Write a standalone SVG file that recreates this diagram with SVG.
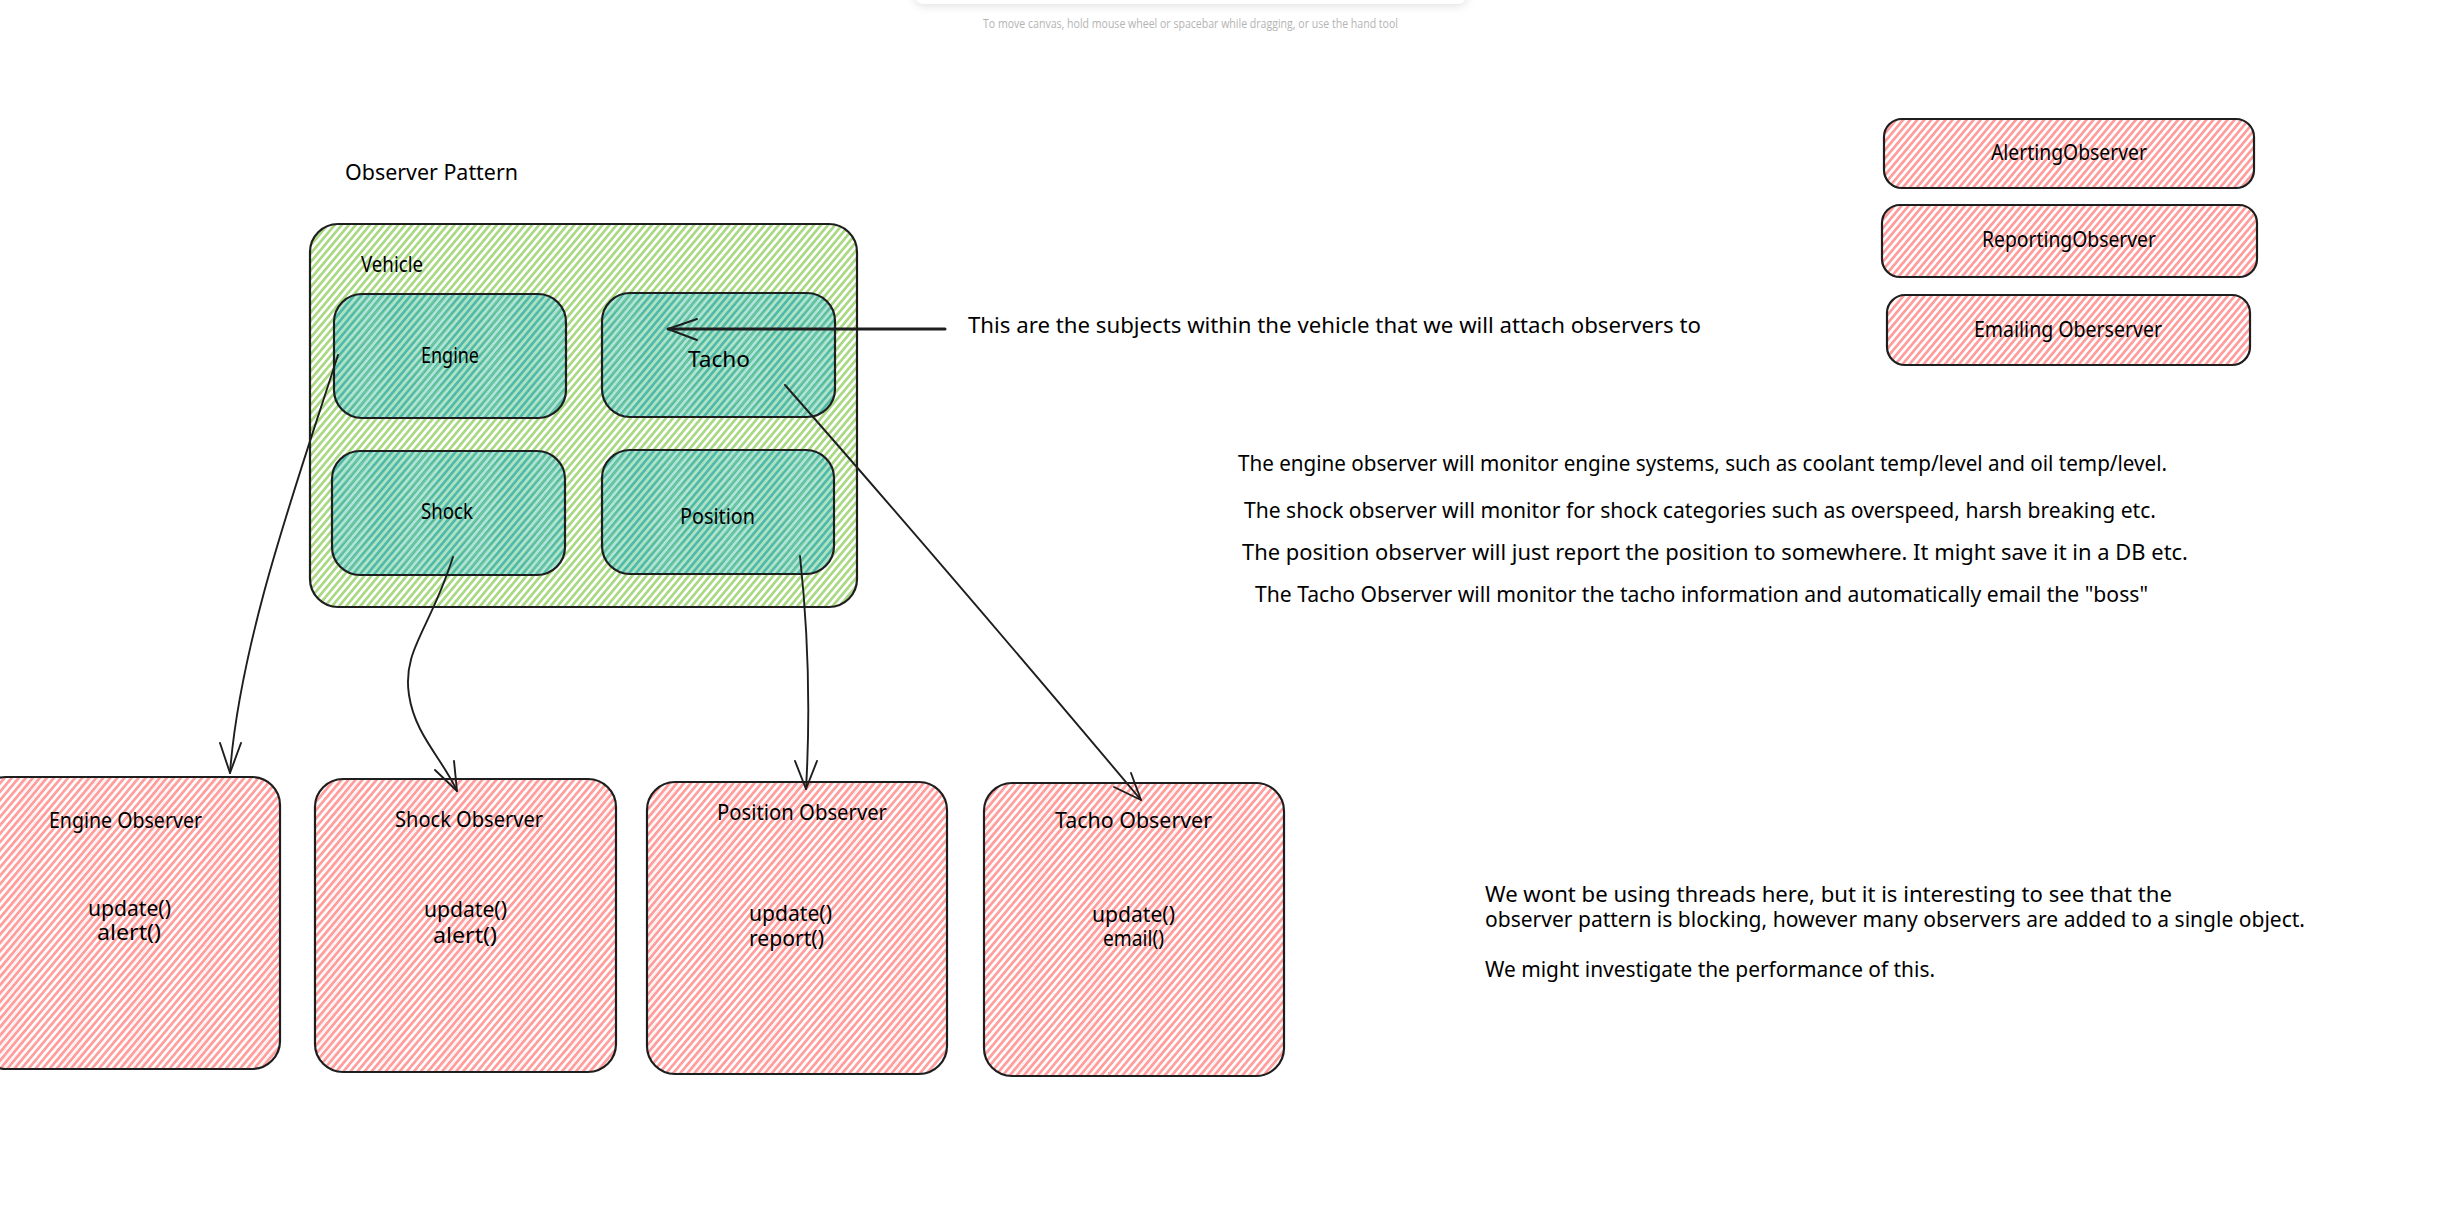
<svg xmlns="http://www.w3.org/2000/svg" width="2439" height="1231" viewBox="0 0 2439 1231">
<style>
.box{stroke:#1e1e1e;stroke-width:2.2}
.green{fill:url(#hGreen)}
.pink{fill:url(#hPink)}
.pink2{fill:url(#hPink2);stroke:none}
.teal{fill:url(#hTeal)}
.teal2{fill:url(#hTeal2);stroke:none}
text{font-family:"Noto Sans","Liberation Sans",sans-serif;font-size:21px;fill:#000}
.hint{font-family:"Open Sans","Liberation Sans",sans-serif;font-size:13px;fill:#b4b4b4}
.line{fill:none;stroke:#1e1e1e;stroke-width:1.9;stroke-linecap:round;stroke-linejoin:round}
</style>
<defs>
<filter id="sh" x="-5%" y="-100%" width="110%" height="400%"><feDropShadow dx="0" dy="2" stdDeviation="5" flood-color="#000" flood-opacity="0.12"/></filter>
<pattern id="hGreen" patternUnits="userSpaceOnUse" width="5.4" height="5.4" patternTransform="rotate(40)"><rect width="2.7" height="5.4" fill="#a9d983"/></pattern>
<pattern id="hPink" patternUnits="userSpaceOnUse" width="5.4" height="5.4" patternTransform="rotate(40)"><rect width="2.7" height="5.4" fill="#ff9c9c"/></pattern>
<pattern id="hPink2" patternUnits="userSpaceOnUse" width="5.8" height="5.8" patternTransform="rotate(43)"><rect width="0.8" height="5.8" fill="#ffb4b4" fill-opacity="0.4"/></pattern>
<pattern id="hTeal" patternUnits="userSpaceOnUse" width="5.4" height="5.4" patternTransform="rotate(40)"><rect width="5.4" height="5.4" fill="#b2e6d8"/><rect x="1" width="2.7" height="5.4" fill="#4db8a6"/></pattern>
<pattern id="hTeal2" patternUnits="userSpaceOnUse" width="5.8" height="5.8" patternTransform="rotate(43)"><rect width="1.2" height="5.8" fill="#a9d983" fill-opacity="0.5"/></pattern>
</defs>
<rect width="2439" height="1231" fill="#fff"/>

<g id="canvas-panel">
<rect x="914" y="-30" width="553" height="34" rx="10" fill="#fff" filter="url(#sh)"/>
<text class="hint" x="983" y="28" textLength="415" lengthAdjust="spacingAndGlyphs">To move canvas, hold mouse wheel or spacebar while dragging, or use the hand tool</text>
</g>

<g id="title"><text x="345" y="180" textLength="173" lengthAdjust="spacingAndGlyphs">Observer Pattern</text></g>

<g id="vehicle">
<rect class="box green" x="310" y="224" width="547" height="383" rx="28"/>
<text x="361" y="272" textLength="62" lengthAdjust="spacingAndGlyphs">Vehicle</text>
</g>
<g id="engine">
<rect class="box teal" x="334" y="294" width="232" height="124" rx="28"/><rect class="teal2" x="336" y="296" width="228" height="120" rx="26"/>
<text x="421" y="363" textLength="58" lengthAdjust="spacingAndGlyphs">Engine</text>
</g>
<g id="tacho">
<rect class="box teal" x="602" y="293" width="233" height="124" rx="28"/><rect class="teal2" x="604" y="295" width="229" height="120" rx="26"/>
<text x="688" y="367" textLength="62" lengthAdjust="spacingAndGlyphs">Tacho</text>
</g>
<g id="shock">
<rect class="box teal" x="332" y="451" width="233" height="124" rx="28"/><rect class="teal2" x="334" y="453" width="229" height="120" rx="26"/>
<text x="421" y="519" textLength="52" lengthAdjust="spacingAndGlyphs">Shock</text>
</g>
<g id="position">
<rect class="box teal" x="602" y="450" width="232" height="124" rx="28"/><rect class="teal2" x="604" y="452" width="228" height="120" rx="26"/>
<text x="680" y="524" textLength="75" lengthAdjust="spacingAndGlyphs">Position</text>
</g>

<g id="engine-observer">
<rect class="box pink" x="-22" y="777" width="302" height="292" rx="28"/><rect class="pink2" x="-22" y="778" width="301" height="290" rx="28"/>
<text x="49" y="828" textLength="153" lengthAdjust="spacingAndGlyphs">Engine Observer</text>
<text x="88" y="916" textLength="83" lengthAdjust="spacingAndGlyphs">update()</text>
<text x="97" y="940" textLength="64" lengthAdjust="spacingAndGlyphs">alert()</text>
</g>
<g id="shock-observer">
<rect class="box pink" x="315" y="779" width="301" height="293" rx="28"/><rect class="pink2" x="316" y="780" width="299" height="291" rx="28"/>
<text x="395" y="827" textLength="148" lengthAdjust="spacingAndGlyphs">Shock Observer</text>
<text x="424" y="917" textLength="83" lengthAdjust="spacingAndGlyphs">update()</text>
<text x="433" y="943" textLength="64" lengthAdjust="spacingAndGlyphs">alert()</text>
</g>
<g id="position-observer">
<rect class="box pink" x="647" y="782" width="300" height="292" rx="28"/><rect class="pink2" x="648" y="783" width="298" height="290" rx="28"/>
<text x="717" y="820" textLength="170" lengthAdjust="spacingAndGlyphs">Position Observer</text>
<text x="749" y="921" textLength="83" lengthAdjust="spacingAndGlyphs">update()</text>
<text x="749" y="946" textLength="75" lengthAdjust="spacingAndGlyphs">report()</text>
</g>
<g id="tacho-observer">
<rect class="box pink" x="984" y="783" width="300" height="293" rx="28"/><rect class="pink2" x="985" y="784" width="298" height="291" rx="28"/>
<text x="1055" y="828" textLength="157" lengthAdjust="spacingAndGlyphs">Tacho Observer</text>
<text x="1092" y="922" textLength="83" lengthAdjust="spacingAndGlyphs">update()</text>
<text x="1103" y="946" textLength="61" lengthAdjust="spacingAndGlyphs">email()</text>
</g>

<g id="alerting-observer">
<rect class="box pink" x="1884" y="119" width="370" height="69" rx="18"/>
<text x="1991" y="160" textLength="156" lengthAdjust="spacingAndGlyphs">AlertingObserver</text>
</g>
<g id="reporting-observer">
<rect class="box pink" x="1882" y="205" width="375" height="72" rx="18"/>
<text x="1982" y="247" textLength="174" lengthAdjust="spacingAndGlyphs">ReportingObserver</text>
</g>
<g id="emailing-observer">
<rect class="box pink" x="1887" y="295" width="363" height="70" rx="18"/>
<text x="1974" y="337" textLength="188" lengthAdjust="spacingAndGlyphs">Emailing Oberserver</text>
</g>

<g id="notes">
<text x="968" y="333" textLength="733" lengthAdjust="spacingAndGlyphs">This are the subjects within the vehicle that we will attach observers to</text>
<text x="1238" y="471" textLength="929" lengthAdjust="spacingAndGlyphs">The engine observer will monitor engine systems, such as coolant temp/level and oil temp/level.</text>
<text x="1244" y="518" textLength="912" lengthAdjust="spacingAndGlyphs">The shock observer will monitor for shock categories such as overspeed, harsh breaking etc.</text>
<text x="1242" y="560" textLength="946" lengthAdjust="spacingAndGlyphs">The position observer will just report the position to somewhere. It might save it in a DB etc.</text>
<text x="1255" y="602" textLength="893" lengthAdjust="spacingAndGlyphs">The Tacho Observer will monitor the tacho information and automatically email the "boss"</text>
<text x="1485" y="902" textLength="687" lengthAdjust="spacingAndGlyphs">We wont be using threads here, but it is interesting to see that the</text>
<text x="1485" y="927" textLength="820" lengthAdjust="spacingAndGlyphs">observer pattern is blocking, however many observers are added to a single object.</text>
<text x="1485" y="977" textLength="450" lengthAdjust="spacingAndGlyphs">We might investigate the performance of this.</text>
</g>

<g id="connectors">
<path class="line" style="stroke-width:3" d="M945 329L668 329"/>
<path class="line" d="M697 319L668 329L697 340"/>
<path class="line" d="M338 355C298 480 240 640 230 773"/>
<path class="line" d="M220 743L230 773L241 743"/>
<path class="line" d="M453 557C430 630 402 650 409 695C415 735 442 758 457 791"/>
<path class="line" d="M435 770L457 791L454 761"/>
<path class="line" d="M800 556C809 640 810 720 806 789"/>
<path class="line" d="M795 761L806 789L817 761"/>
<path class="line" d="M785 385C895 510 1030 668 1141 800"/>
<path class="line" d="M1114 787L1141 800L1131 773"/>
</g>
</svg>
